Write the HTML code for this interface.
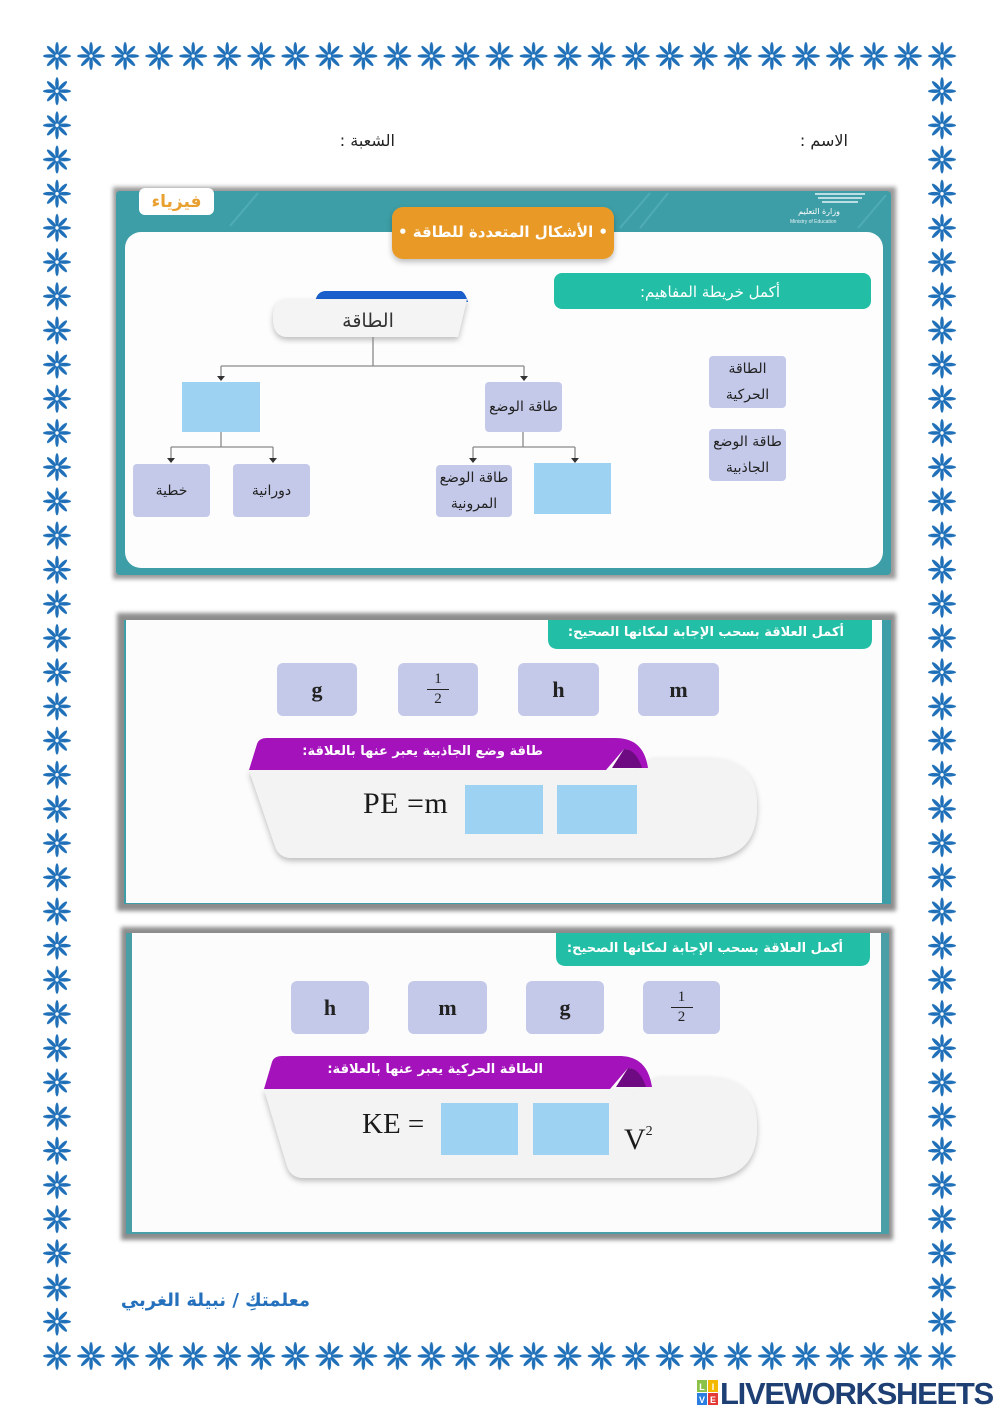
<!DOCTYPE html>
<html><head><meta charset="utf-8">
<style>
body{margin:0;width:1000px;height:1413px;position:relative;background:#fff;overflow:hidden;font-family:"DejaVu Sans","Liberation Sans",sans-serif;}
.a{position:absolute;}
.box{position:absolute;background:#c4c9e9;border-radius:4px;display:flex;align-items:center;justify-content:center;text-align:center;color:#222;font-size:14px;line-height:26px;direction:rtl;}
.blue{position:absolute;background:#9dd2f2;}
.tile{position:absolute;background:#c4c9e9;border-radius:6px;display:flex;align-items:center;justify-content:center;font-family:"Liberation Serif",serif;font-size:22px;font-weight:bold;color:#222;}
.frac{display:flex;flex-direction:column;align-items:center;font-size:15px;line-height:15px;font-weight:normal;}
.frac i{display:block;width:22px;border-top:1px solid #222;margin:2px 0;}
.rt{position:absolute;direction:rtl;white-space:nowrap;}
.wh{color:#fff;font-weight:bold;}
.ser{position:absolute;font-family:"Liberation Serif",serif;color:#1a1a1a;white-space:nowrap;}
</style></head><body>
<svg class="a" style="left:0;top:0" width="1000" height="1413" xmlns="http://www.w3.org/2000/svg" xmlns:xlink="http://www.w3.org/1999/xlink">
<defs>
<g id="fl" fill="#1f70b8">
<ellipse cx="7.6" cy="0" rx="6.4" ry="1.8"/>
<ellipse cx="7.6" cy="0" rx="6.4" ry="1.8" transform="rotate(45)"/>
<ellipse cx="7.6" cy="0" rx="6.4" ry="1.8" transform="rotate(90)"/>
<ellipse cx="7.6" cy="0" rx="6.4" ry="1.8" transform="rotate(135)"/>
<ellipse cx="7.6" cy="0" rx="6.4" ry="1.8" transform="rotate(180)"/>
<ellipse cx="7.6" cy="0" rx="6.4" ry="1.8" transform="rotate(225)"/>
<ellipse cx="7.6" cy="0" rx="6.4" ry="1.8" transform="rotate(270)"/>
<ellipse cx="7.6" cy="0" rx="6.4" ry="1.8" transform="rotate(315)"/>
<circle r="1.7" fill="#fff"/>
</g>
<pattern id="pt" x="40" y="39" width="34.04" height="34" patternUnits="userSpaceOnUse"><use href="#fl" xlink:href="#fl" x="17.02" y="17"/></pattern>
<pattern id="pb" x="40" y="1339" width="34.04" height="34" patternUnits="userSpaceOnUse"><use href="#fl" xlink:href="#fl" x="17.02" y="17"/></pattern>
<pattern id="pl" x="40" y="39.91" width="34" height="34.18" patternUnits="userSpaceOnUse"><use href="#fl" xlink:href="#fl" x="17" y="17.09"/></pattern>
<pattern id="pr" x="925" y="39.91" width="34" height="34.18" patternUnits="userSpaceOnUse"><use href="#fl" xlink:href="#fl" x="17" y="17.09"/></pattern>
<filter id="bl" x="-5%" y="-5%" width="110%" height="110%"><feGaussianBlur stdDeviation="2"/></filter>
<filter id="sh" x="-10%" y="-10%" width="120%" height="130%"><feDropShadow dx="0" dy="3" stdDeviation="3" flood-color="#000" flood-opacity="0.25"/></filter>
</defs>
<!-- border -->
<rect x="40" y="39" width="919.1" height="34" fill="url(#pt)"/>
<rect x="40" y="1339" width="919.1" height="34" fill="url(#pb)"/>
<rect x="40" y="74.09" width="34" height="1264.7" fill="url(#pl)"/>
<rect x="925" y="74.09" width="34" height="1264.7" fill="url(#pr)"/>

<!-- panel 1 -->
<rect x="113" y="187" width="783" height="392" fill="#9a9a9a" filter="url(#bl)"/>
<rect x="116" y="191" width="775" height="384" rx="4" fill="#3d9ea7"/>
<g stroke="#58b3ba" stroke-width="2" opacity="0.7">
<line x1="230" y1="226" x2="258" y2="193"/>
<line x1="620" y1="228" x2="650" y2="193"/>
<line x1="640" y1="228" x2="668" y2="193"/>
<line x1="858" y1="228" x2="886" y2="195"/>
</g>
<rect x="125" y="232" width="758" height="336" rx="16" fill="#fdfdfd"/>
<rect x="139" y="188" width="75" height="27" rx="6" fill="#fff"/>
<g fill="#d9eef0">
<rect x="815" y="193" width="50" height="2" opacity="0.8"/>
<rect x="818" y="197" width="44" height="2" opacity="0.8"/>
<rect x="822" y="201" width="36" height="2" opacity="0.8"/>
</g>
<rect x="392" y="207" width="222" height="52" rx="11" fill="#e99a28" filter="url(#sh)"/>
<rect x="554" y="273" width="317" height="36" rx="8" fill="#22bfa6"/>
<path d="M315,302 Q317,291 326,291 L461,291 Q465,292 468,302 Z" fill="#1a5fcc"/>
<path d="M288,299 L467,299 L458,337 L288,337 Q273,337 273,318 Q273,299 288,299 Z" fill="#f4f4f4" filter="url(#sh)"/>
<g stroke="#8a8a8a" stroke-width="1.3" fill="none">
<path d="M373,337 V366 M221,366 H524 M221,366 V377 M524,366 V377"/>
<path d="M221,432 V447 M171,447 H273 M171,447 V459 M273,447 V459"/>
<path d="M523,432 V447 M473,447 H575 M473,447 V459 M575,447 V459"/>
</g>
<g fill="#333">
<path d="M217,376 H225 L221,381 Z"/><path d="M520,376 H528 L524,381 Z"/>
<path d="M167,458 H175 L171,463 Z"/><path d="M269,458 H277 L273,463 Z"/>
<path d="M469,458 H477 L473,463 Z"/><path d="M571,458 H579 L575,463 Z"/>
</g>

<!-- panel 2 -->
<rect x="117" y="613" width="779" height="298" fill="#8c8c8c" filter="url(#bl)"/>
<rect x="124" y="620" width="767" height="284" fill="#3d9ea7"/>
<rect x="126" y="620" width="756" height="283" fill="#fcfcfc"/>
<path d="M548,620 H872 V639 Q872,649 862,649 H558 Q548,649 548,639 Z" fill="#22bfa6"/>
<path d="M249,770 L636,770 L652,758 L708,758 Q757,758 757,806 Q757,858 708,858 L292,858 Q279,858 275,846 Z" fill="#f3f3f3" filter="url(#sh)"/>
<path d="M624,749 C633,749 640,756 644,768 L612,768 Z" fill="#6e0a82"/>
<path d="M249,770 L257,744 Q259,738 267,738 L615,738 C635,738 645,748 648,768 L642,768 C638,756 632,749 624,749 L606,770 Z" fill="#a312ba"/>

<!-- panel 3 -->
<rect x="121" y="927" width="772" height="313" fill="#8c8c8c" filter="url(#bl)"/>
<rect x="126" y="933" width="763" height="301" fill="#4a9ea5"/>
<rect x="132" y="933" width="749" height="299" fill="#fcfcfc"/>
<path d="M556,933 H870 V956 Q870,966 860,966 H566 Q556,966 556,956 Z" fill="#22bfa6"/>
<path d="M264,1089 L640,1089 L656,1077 L708,1077 Q757,1077 757,1127 Q757,1178 708,1178 L304,1178 Q291,1178 287,1166 Z" fill="#f3f3f3" filter="url(#sh)"/>
<path d="M628,1068 C637,1068 644,1075 648,1087 L616,1087 Z" fill="#6e0a82"/>
<path d="M264,1089 L272,1062 Q274,1056 282,1056 L619,1056 C639,1056 649,1067 652,1087 L646,1087 C642,1075 636,1068 628,1068 L610,1089 Z" fill="#a312ba"/>

<!-- liveworksheets squares -->
<rect x="697" y="1380" width="10" height="12" fill="#8bc34a"/>
<rect x="708" y="1380" width="10" height="12" fill="#f5b800"/>
<rect x="697" y="1393" width="10" height="12" fill="#2a7de1"/>
<rect x="708" y="1393" width="10" height="12" fill="#e53935"/>
<g font-family="Liberation Sans, sans-serif" font-size="9" font-weight="bold" fill="#fff" text-anchor="middle">
<text x="702" y="1390">L</text><text x="713" y="1390">I</text><text x="702" y="1403">V</text><text x="713" y="1403">E</text>
</g>
</svg>

<div class="rt" style="right:152px;top:131px;font-size:16px;color:#222;">الاسم :</div>
<div class="rt" style="right:605px;top:131px;font-size:16px;color:#222;">الشعبة :</div>

<div class="rt" style="left:139px;width:75px;top:190px;text-align:center;font-size:17px;font-weight:bold;color:#e8a030;line-height:24px;">فيزياء</div>
<div class="rt" style="right:160px;top:207px;font-size:8px;color:#fff;">وزارة التعليم</div>
<div class="a" style="left:790px;top:219px;font-size:5px;color:#e6f3f4;font-family:'Liberation Sans',sans-serif;white-space:nowrap;">Ministry of Education</div>
<div class="rt wh" style="left:392px;width:222px;top:207px;height:52px;line-height:50px;text-align:center;font-size:15px;">• الأشكال المتعددة للطاقة •</div>
<div class="rt" style="right:220px;top:281px;font-size:15px;color:#fff;line-height:22px;">أكمل خريطة المفاهيم:</div>
<div class="rt" style="left:273px;width:190px;top:308px;text-align:center;font-size:19px;color:#333;line-height:26px;">الطاقة</div>

<div class="blue" style="left:182px;top:382px;width:78px;height:50px;"></div>
<div class="box" style="left:485px;top:382px;width:77px;height:50px;">طاقة الوضع</div>
<div class="box" style="left:133px;top:464px;width:77px;height:53px;">خطية</div>
<div class="box" style="left:233px;top:464px;width:77px;height:53px;">دورانية</div>
<div class="box" style="left:436px;top:465px;width:76px;height:52px;">طاقة الوضع<br>المرونية</div>
<div class="blue" style="left:534px;top:463px;width:77px;height:51px;"></div>
<div class="box" style="left:709px;top:356px;width:77px;height:52px;">الطاقة<br>الحركية</div>
<div class="box" style="left:709px;top:429px;width:77px;height:52px;">طاقة الوضع<br>الجاذبية</div>

<div class="rt wh" style="right:156px;top:623px;font-size:13px;line-height:20px;">أكمل العلاقة بسحب الإجابة لمكانها الصحيح:</div>
<div class="tile" style="left:277px;top:663px;width:80px;height:53px;">g</div>
<div class="tile" style="left:398px;top:663px;width:80px;height:53px;"><div class="frac"><span>1</span><i></i><span>2</span></div></div>
<div class="tile" style="left:518px;top:663px;width:81px;height:53px;">h</div>
<div class="tile" style="left:638px;top:663px;width:81px;height:53px;">m</div>
<div class="rt wh" style="right:457px;top:742px;font-size:13px;line-height:20px;">طاقة وضع الجاذبية يعبر عنها بالعلاقة:</div>
<div class="ser" style="left:363px;top:787px;font-size:30px;line-height:33px;letter-spacing:0.5px;">PE =m</div>
<div class="blue" style="left:465px;top:785px;width:78px;height:49px;"></div>
<div class="blue" style="left:557px;top:785px;width:80px;height:49px;"></div>

<div class="rt wh" style="right:157px;top:939px;font-size:13px;line-height:20px;">أكمل العلاقة بسحب الإجابة لمكانها الصحيح:</div>
<div class="tile" style="left:291px;top:981px;width:78px;height:53px;">h</div>
<div class="tile" style="left:408px;top:981px;width:79px;height:53px;">m</div>
<div class="tile" style="left:526px;top:981px;width:78px;height:53px;">g</div>
<div class="tile" style="left:643px;top:981px;width:77px;height:53px;"><div class="frac"><span>1</span><i></i><span>2</span></div></div>
<div class="rt wh" style="right:457px;top:1060px;font-size:13px;line-height:20px;">الطاقة الحركية يعبر عنها بالعلاقة:</div>
<div class="ser" style="left:362px;top:1108px;font-size:29px;line-height:32px;">KE =</div>
<div class="blue" style="left:441px;top:1103px;width:77px;height:52px;"></div>
<div class="blue" style="left:533px;top:1103px;width:76px;height:52px;"></div>
<div class="ser" style="left:624px;top:1115px;font-size:30px;line-height:34px;">V<span style="font-size:14px;vertical-align:14px;">2</span></div>

<div class="rt" style="right:690px;top:1288px;font-size:18px;font-weight:bold;color:#2470bd;line-height:26px;">معلمتكِ / نبيلة الغربي</div>

<div class="a" style="left:720px;top:1378px;font-family:'Liberation Sans',sans-serif;font-weight:bold;font-size:31px;line-height:31px;letter-spacing:-1.3px;color:#1d3f74;white-space:nowrap;">LIVEWORKSHEETS</div>
</body></html>
